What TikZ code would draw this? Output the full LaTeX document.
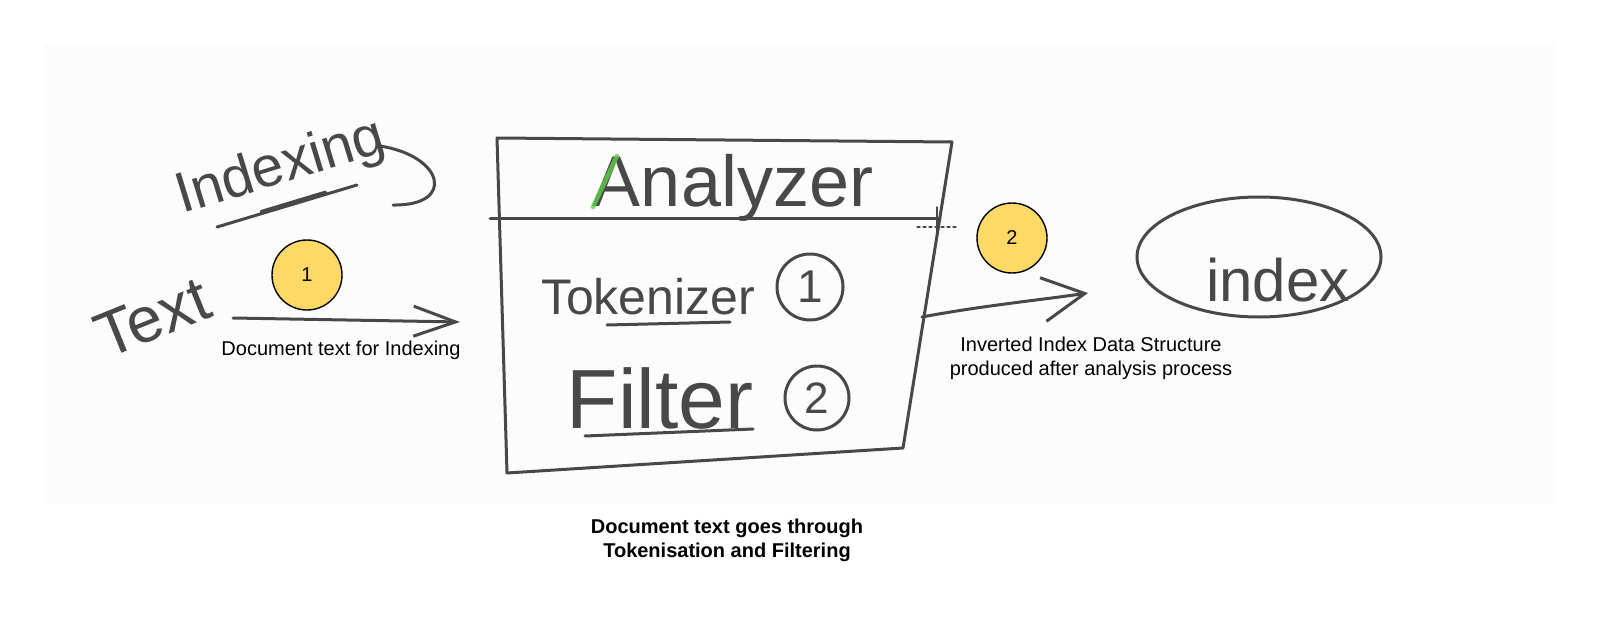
\documentclass[tikz,border=0pt]{standalone}
\usepackage{fontspec}
\setmainfont{Liberation Sans}
\usepackage{pgf,tikz}
\usetikzlibrary{arrows.meta}
\definecolor{pencil}{RGB}{72,72,72}
\definecolor{badgeyellow}{RGB}{255,217,102}
\definecolor{marker}{RGB}{95,205,75}

\begin{document}
\begin{tikzpicture}[line cap=round,line join=round,x=1pt,y=-1pt,
  pen/.style={color=pencil,line width=3pt},
  scrawl/.style={color=pencil,inner sep=0pt},
  badge/.style={circle,draw=black,line width=1.4pt,fill=badgeyellow,minimum size=70pt,inner sep=0pt,font=\fontsize{20}{24}\selectfont},
  note/.style={align=center,inner sep=0pt,font=\fontsize{20}{24}\selectfont},
  penhead/.style={-{Straight Barb[length=42pt,width=30pt,line width=3pt]}}]
\useasboundingbox (0,0) rectangle (1600,631);
\fill [black!1] (43,43) rectangle (1555,503);
%
\node[scrawl,rotate=17,anchor=base west,font=\fontsize{57}{57}\selectfont] (indexing) at (182,214) {Indexing};
\draw [pen] (380,146) .. controls (444,156) and (456,206) .. (393,205);
\draw [pen] (217,227)-- (357,185);
\draw [pen,line width=4.5pt] (262,212)-- (325,193);
\node[scrawl,rotate=22,anchor=base west,font=\fontsize{64}{64}\selectfont] (text) at (106,360) {Text};
%
\draw [pen] (497,138)-- (952,142)-- (903,448)-- (507,473)-- cycle;
\draw [pen] (490,218)-- (940,218);
\draw [pen,line width=1.2pt] (937,207)-- (937,232);
\draw [pen,line width=1.2pt,dashed] (917,227)-- (957,227);
\node[scrawl,anchor=base,font=\fontsize{72}{72}\selectfont] (analyzer) at (733,207) {Analyzer};
\draw [marker,line width=4.5pt,opacity=0.8] (593,207)-- (617,156);
\node[scrawl,anchor=base,font=\fontsize{50}{50}\selectfont] (tokenizer) at (648,314) {Tokenizer};
\draw [pen] (607,325)-- (730,322);
\node[scrawl,circle,draw,line width=3pt,minimum size=66pt,font=\fontsize{46}{46}\selectfont] (tokmark) at (810,287) {1};
\node[scrawl,anchor=base,font=\fontsize{84}{84}\selectfont] (filter) at (660,428) {Filter};
\draw [pen] (585,436)-- (753,429);
\node[scrawl,circle,draw,line width=3pt,minimum size=64pt,font=\fontsize{44}{44}\selectfont] (filmark) at (817,398) {2};
%
\draw [pen] (1259,257) ellipse (122 and 60);
\node[scrawl,anchor=base,font=\fontsize{60}{60}\selectfont] (index) at (1278,301) {index};
%
\coordinate (textend) at (233,318);
\coordinate (boxin) at (460,322);
\coordinate (boxout) at (922,317);
\coordinate (indexin) at (1088,293);
\draw [pen,penhead] (textend)-- (boxin);
\draw [pen,-{Straight Barb[length=42pt,width=44pt,line width=3pt]}] (boxout) .. controls (980,306) and (1040,300) .. (indexin);
%
\node[badge] (step1) at (307,275) {1};
\node[badge] (step2) at (1012,238) {2};
\node[note] (doclabel) at (341,350) {Document text for Indexing};
\node[note] (invlabel) at (1091,358) {Inverted Index Data Structure\\produced after analysis process};
\node[note,font=\bfseries\fontsize{20}{24}\selectfont] (passlabel) at (727,540) {Document text goes through\\Tokenisation and Filtering};
\end{tikzpicture}
\end{document}
